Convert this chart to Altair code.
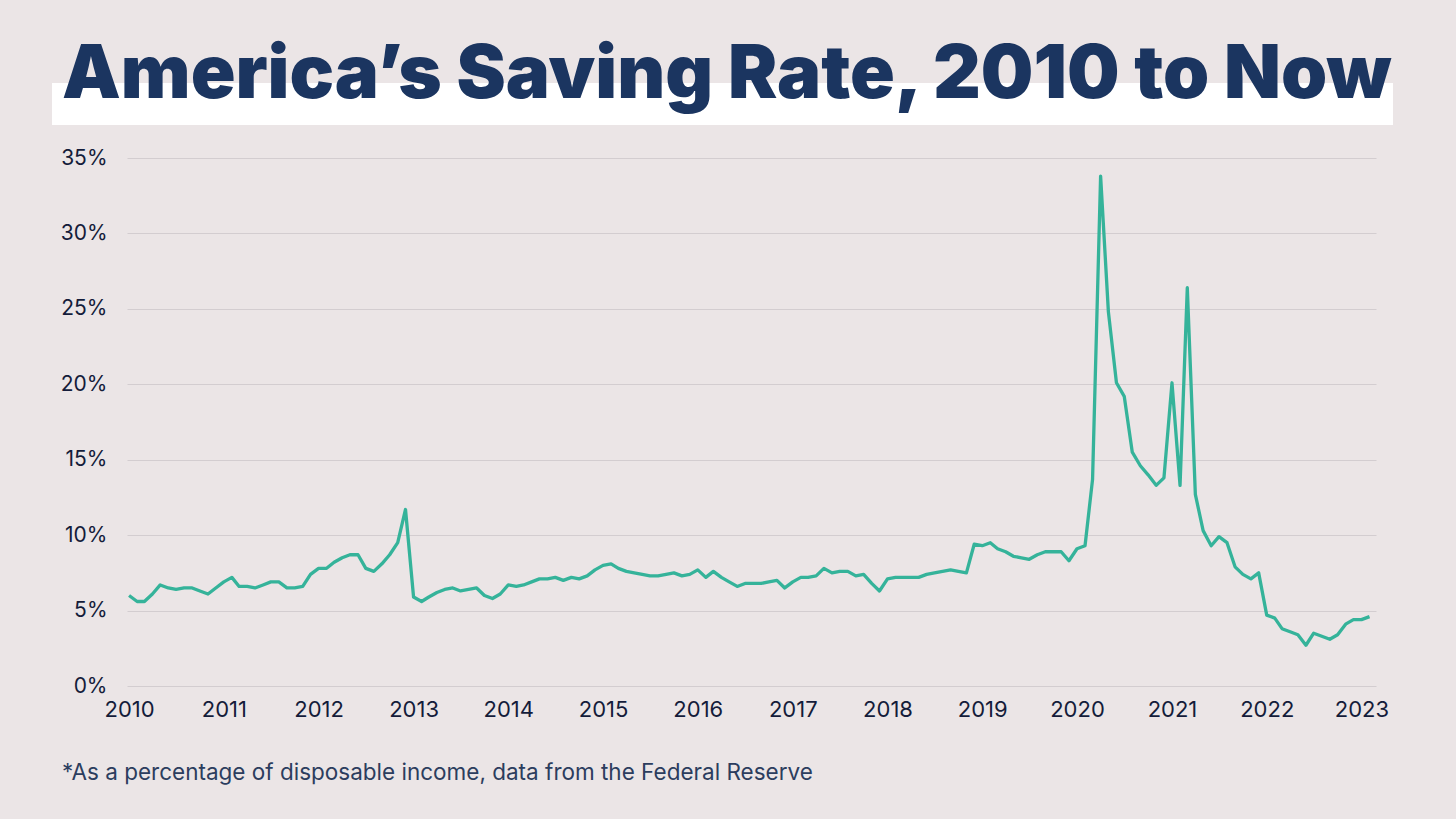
import altair as alt
import pandas as pd

# Personal saving rate (% of disposable income), monthly Jan 2010 - Feb 2023
saving_rate = [
    # 2010
    6.0, 5.6, 5.6, 6.1, 6.7, 6.5, 6.4, 6.5, 6.5, 6.3, 6.1, 6.5,
    # 2011
    6.9, 7.2, 6.6, 6.6, 6.5, 6.7, 6.9, 6.9, 6.5, 6.5, 6.6, 7.4,
    # 2012
    7.8, 7.8, 8.2, 8.5, 8.7, 8.7, 7.8, 7.6, 8.1, 8.7, 9.5, 11.7,
    # 2013
    5.9, 5.6, 5.9, 6.2, 6.4, 6.5, 6.3, 6.4, 6.5, 6.0, 5.8, 6.1,
    # 2014
    6.7, 6.6, 6.7, 6.9, 7.1, 7.1, 7.2, 7.0, 7.2, 7.1, 7.3, 7.7,
    # 2015
    8.0, 8.1, 7.8, 7.6, 7.5, 7.4, 7.3, 7.3, 7.4, 7.5, 7.3, 7.4,
    # 2016
    7.7, 7.2, 7.6, 7.2, 6.9, 6.6, 6.8, 6.8, 6.8, 6.9, 7.0, 6.5,
    # 2017
    6.9, 7.2, 7.2, 7.3, 7.8, 7.5, 7.6, 7.6, 7.3, 7.4, 6.8, 6.3,
    # 2018
    7.1, 7.2, 7.2, 7.2, 7.2, 7.4, 7.5, 7.6, 7.7, 7.6, 7.5, 9.4,
    # 2019
    9.3, 9.5, 9.1, 8.9, 8.6, 8.5, 8.4, 8.7, 8.9, 8.9, 8.9, 8.3,
    # 2020
    9.1, 9.3, 13.7, 33.8, 24.8, 20.1, 19.2, 15.5, 14.6, 14.0, 13.3, 13.8,
    # 2021
    20.1, 13.3, 26.4, 12.7, 10.3, 9.3, 9.9, 9.5, 7.9, 7.4, 7.1, 7.5,
    # 2022
    4.7, 4.5, 3.8, 3.6, 3.4, 2.7, 3.5, 3.3, 3.1, 3.4, 4.1, 4.4,
    # 2023
    4.4, 4.6,
]

title_text = ["America\u2019s Saving Rate, 2010 to Now"]
footnote_text = ["*As a percentage of disposable income, data from the Federal Reserve"]
y_ticks = [0, 5, 10, 15, 20, 25, 30, 35]

dates = pd.date_range("2010-01-01", periods=len(saving_rate), freq="MS")
df = pd.DataFrame({"date": dates, "rate": saving_rate})

NAVY = "#1b3560"
TEXT = "#141c3a"
FONT = "Inter"

x_scale = alt.Scale(domain=["2009-12-24", "2023-02-26"])
y_scale = alt.Scale(domain=[0, 35])

line = alt.Chart(df).mark_line(color="#35b39a", strokeWidth=3.3, strokeJoin="round").encode(
    x=alt.X(
        "date:T",
        scale=x_scale,
        axis=alt.Axis(
            title=None, format="%Y", tickCount={"interval": "year", "step": 1},
            grid=False, domain=False, ticks=False, labelPadding=13,
            labelFontSize=22, labelColor=TEXT, labelFont=FONT, labelFlush=False,
        ),
    ),
    y=alt.Y(
        "rate:Q",
        scale=y_scale,
        axis=alt.Axis(
            title=None, values=y_ticks, labelExpr="datum.value + '%'",
            grid=True, gridColor="#d3cdd0", gridWidth=1, domain=False, ticks=False,
            labelPadding=20, labelFontSize=21, labelColor=TEXT, labelFont=FONT,
        ),
    ),
)

band = alt.Chart(pd.DataFrame({"t": [0]})).mark_rect(color="white").encode(
    x=alt.value(-75), x2=alt.value(1266), y=alt.value(-75), y2=alt.value(-33)
)

title = alt.Chart(pd.DataFrame({"t": title_text})).mark_text(
    align="left", baseline="alphabetic", font=FONT, fontWeight=900,
    fontSize=74, color=NAVY,
).encode(x=alt.value(-65), y=alt.value(-60), text="t:N")

foot = alt.Chart(pd.DataFrame({"t": footnote_text})).mark_text(
    align="left", baseline="middle", font=FONT, fontSize=22.5, color="#2c3d5e",
).encode(x=alt.value(-65), y=alt.value(615), text="t:N")

chart = alt.layer(band, line, title, foot).properties(
    width=1249, height=528,
    autosize=alt.AutoSizeParams(type="none"),
    padding={"left": 127, "top": 158, "right": 80, "bottom": 133},
    background="#ebe5e6",
).configure_view(stroke=None)

chart.save("out.html", embed_options={"renderer": "svg", "actions": False})
